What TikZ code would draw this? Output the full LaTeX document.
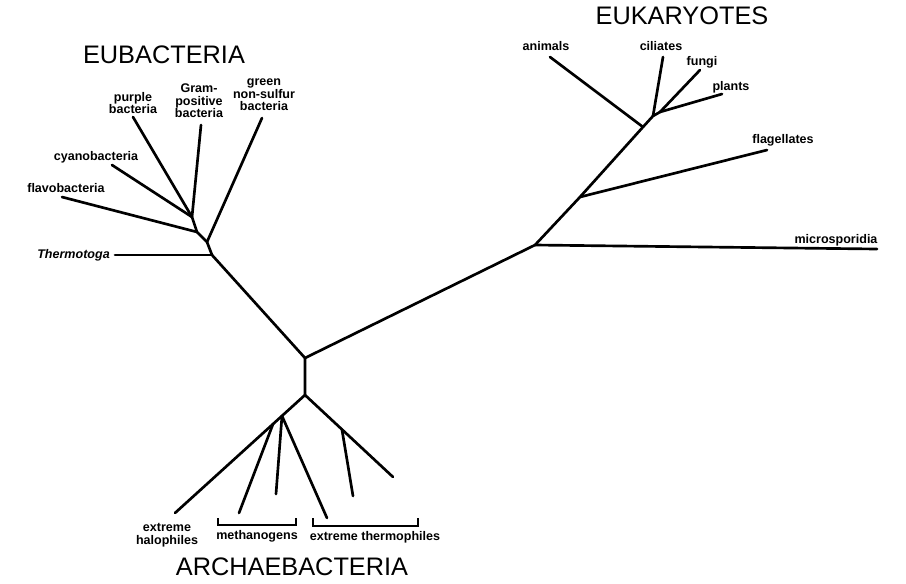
\documentclass[tikz,border=0pt]{standalone}
\usepackage{fontspec}
\setmainfont{Liberation Sans}
\usetikzlibrary{calc}
\begin{document}
\begin{tikzpicture}[x=0.75pt,y=-0.75pt,
  br/.style={line width=2pt,line cap=round,line join=round},
  brk/.style={line width=0.9pt},
  lbl/.style={font=\fontsize{9.4}{9.5}\selectfont\bfseries,align=center,inner sep=0pt},
  ttl/.style={font=\fontsize{19}{19}\selectfont,inner sep=0pt}]
\useasboundingbox (0,0) rectangle (906,583);
% tree vertices
\coordinate (root) at (305,358);
\coordinate (arch) at (305,395);
% Eubacteria
\coordinate (t1) at (212,255);
\coordinate (t2) at (207,242);
\coordinate (t3) at (197,232);
\coordinate (t4) at (192,217);
\coordinate (thermo) at (115,255);
\coordinate (green) at (262,118);
\coordinate (flavo) at (62,197);
\coordinate (purple) at (133,117);
\coordinate (gram) at (201,125);
\coordinate (cyano) at (112,165);
% Eukaryotes
\coordinate (e0) at (535,245);
\coordinate (e1) at (580,197);
\coordinate (e2) at (643,127);
\coordinate (e3) at (653,116);
\coordinate (e4) at (660,112);
\coordinate (micro) at (877,249);
\coordinate (flag) at (767,150);
\coordinate (anim) at (550,57);
\coordinate (cil) at (663,57);
\coordinate (fung) at (700,70);
\coordinate (plan) at (722,94);
% Archaebacteria
\coordinate (halo) at (175,513);
\coordinate (a1) at ($(arch)!0.177!(halo)$);
\coordinate (a2) at ($(arch)!0.246!(halo)$);
\coordinate (meth1) at (239,513);
\coordinate (meth2) at (276,494);
\coordinate (therm1) at (327,518);
\coordinate (rend) at (393,477);
\coordinate (r1) at ($(arch)!0.42!(rend)$);
\coordinate (therm2) at (353,496);

% branches
\draw[br] (arch) -- (root) -- (t1) -- (t2) -- (t3) -- (t4);
\draw[br] (t1) -- (thermo);
\draw[br] (t2) -- (green);
\draw[br] (t3) -- (flavo);
\draw[br] (t4) -- (purple);
\draw[br] (t4) -- (gram);
\draw[br] (t4) -- (cyano);
\draw[br] (root) -- (e0) -- (e1) -- (e2) -- (e3) -- (e4);
\draw[br] (e0) -- (micro);
\draw[br] (e1) -- (flag);
\draw[br] (e2) -- (anim);
\draw[br] (e3) -- (cil);
\draw[br] (e4) -- (fung);
\draw[br] (e4) -- (plan);
\draw[br] (arch) -- (halo);
\draw[br] (a2) -- (meth1);
\draw[br] (a1) -- (meth2);
\draw[br] (a1) -- (therm1);
\draw[br] (arch) -- (rend);
\draw[br] (r1) -- (therm2);

% brackets
\draw[brk] (218,518) -- (218,525) -- (296,525) -- (296,518);
\draw[brk] (313,518) -- (313,526) -- (418,526) -- (418,518);

% titles
\node[ttl] (eubT) at (164,55) {EUBACTERIA};
\node[ttl] (eukT) at (682,16) {EUKARYOTES};
\node[ttl] (arcT) at (292,567) {ARCHAEBACTERIA};

% labels
\node[lbl] (purpleL) at (133,103) {purple\\bacteria};
\node[lbl] (gramL) at (199,101) {Gram-\\positive\\bacteria};
\node[lbl] (greenL) at (264,95) {green\\non-sulfur\\bacteria};
\node[lbl] (cyanoL) at (96,157) {cyanobacteria};
\node[lbl] (flavoL) at (66,188) {flavobacteria};
\node[lbl,font=\fontsize{9.4}{9.5}\selectfont\bfseries\itshape,anchor=east] (thermoL) at (110,255) {Thermotoga};
\node[lbl] (animL) at (546,46) {animals};
\node[lbl] (cilL) at (661,46) {ciliates};
\node[lbl] (fungL) at (702,62) {fungi};
\node[lbl] (planL) at (731,87) {plants};
\node[lbl] (flagL) at (783,140) {flagellates};
\node[lbl] (microL) at (836,240) {microsporidia};
\node[lbl] (haloL) at (167,535) {extreme\\halophiles};
\node[lbl] (methL) at (257,536) {methanogens};
\node[lbl] (thermL) at (375,537) {extreme thermophiles};
\end{tikzpicture}
\end{document}
